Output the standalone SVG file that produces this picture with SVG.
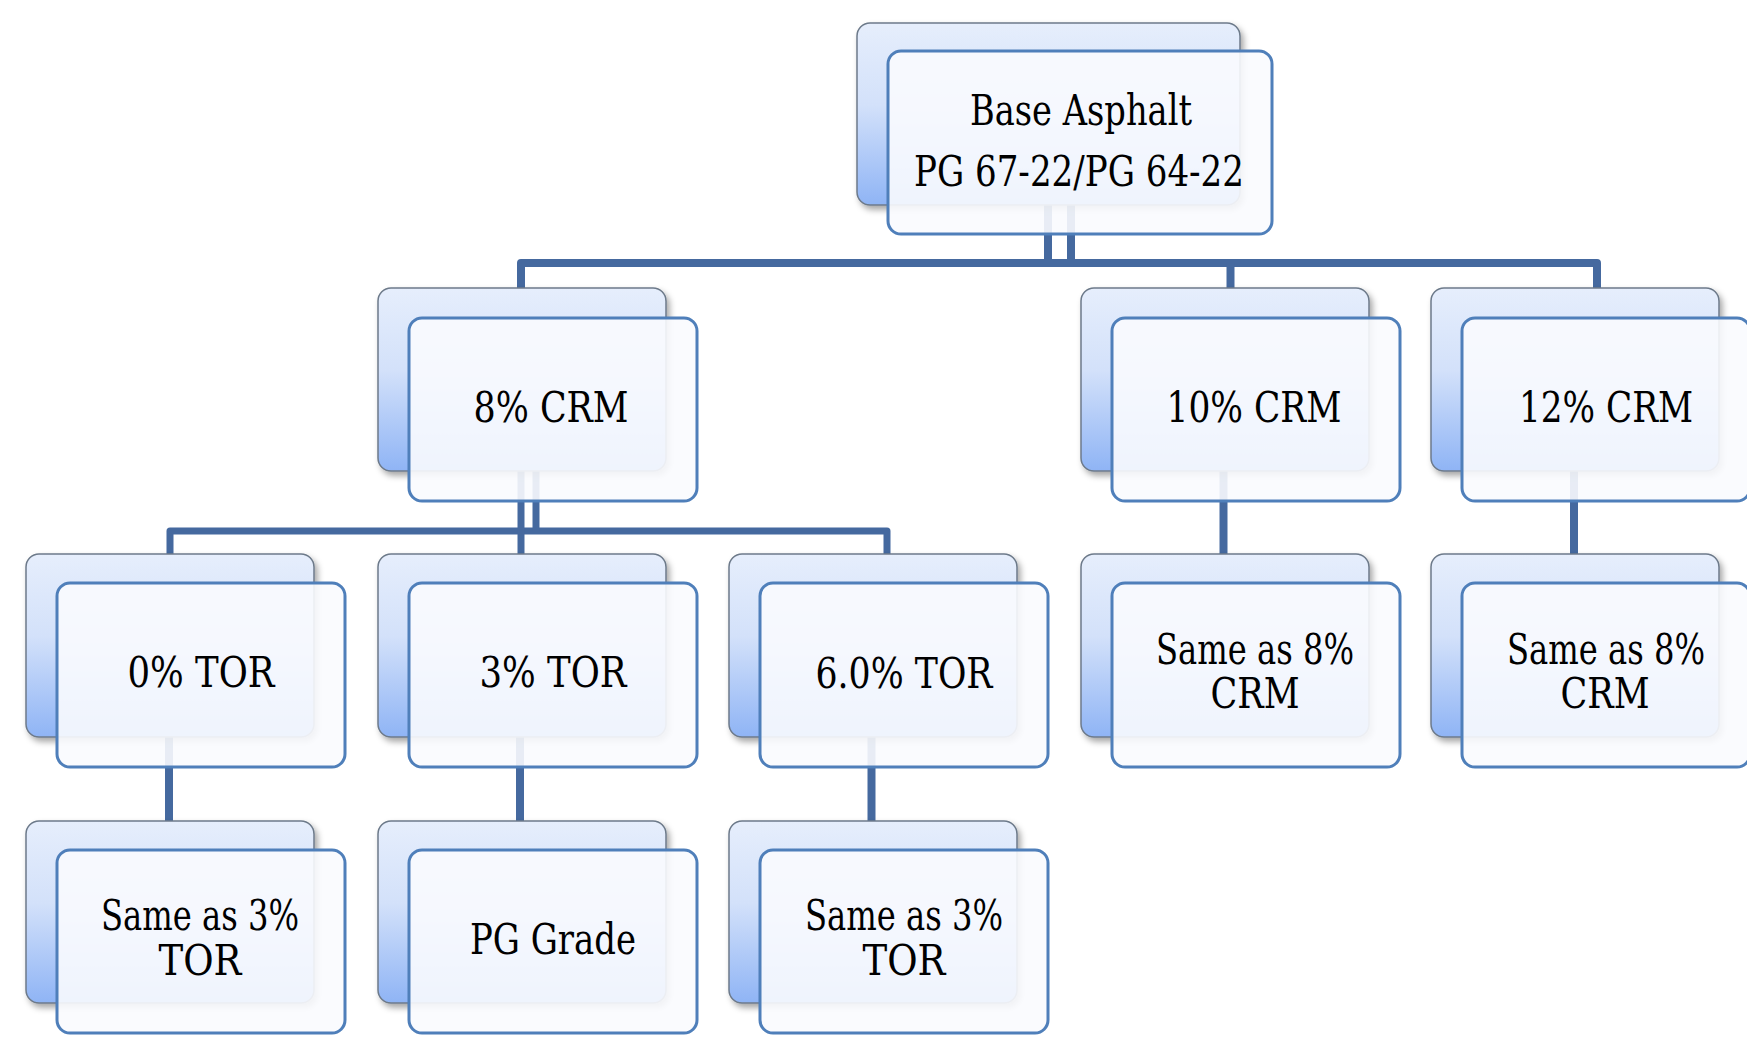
<svg xmlns="http://www.w3.org/2000/svg" width="1747" height="1048" viewBox="0 0 1747 1048">
<defs>
<linearGradient id="bg" x1="0" y1="0" x2="0" y2="1">
<stop offset="0" stop-color="#e6eefc"/>
<stop offset="0.45" stop-color="#d3e1fa"/>
<stop offset="1" stop-color="#8fb4f5"/>
</linearGradient>
<filter id="sh" x="-10%" y="-10%" width="125%" height="130%">
<feDropShadow dx="3" dy="4" stdDeviation="3" flood-color="#000" flood-opacity="0.35"/>
</filter>
<style>
.back{fill:url(#bg);stroke:#6d7a8a;stroke-width:1.5;filter:url(#sh)}
.front{fill:#fafbfe;fill-opacity:0.9;stroke:#4f7fba;stroke-width:3}
.t{font-family:"DejaVu Serif","Liberation Serif",serif;font-size:42px;fill:#000;text-anchor:middle}
.c{fill:none;stroke:#45699f;stroke-width:8;stroke-linejoin:round}
.c2{fill:none;stroke:#45699f;stroke-width:7;stroke-linejoin:round}
</style>
</defs>
<rect width="1747" height="1048" fill="#fff"/>
<g id="connectors">
<path class="c" d="M521 288 V263 H1597 V288"/>
<path class="c" d="M1230.5 263 V288"/>
<path class="c" d="M1048 205 V263"/>
<path class="c" d="M1071 205 V263"/>
<path class="c2" d="M170 554 V531 H887 V555"/>
<path class="c2" d="M521 471 V554"/>
<path class="c2" d="M536 471 V531"/>
<path class="c" d="M1223.5 471 V554"/>
<path class="c" d="M1574 471 V554"/>
<path class="c" d="M169 737 V821"/>
<path class="c" d="M520 737 V821"/>
<path class="c" d="M871.5 737 V821"/>
</g>
<g id="node-base">
<rect class="back" x="857" y="23" width="383" height="182" rx="13"/>
<rect class="front" x="888" y="51" width="384" height="183" rx="13"/>
<text class="t" x="1081" y="125" textLength="222" lengthAdjust="spacingAndGlyphs">Base Asphalt</text>
<text class="t" x="1079" y="186" textLength="330" lengthAdjust="spacingAndGlyphs">PG 67-22/PG 64-22</text>
</g>
<g id="node-8crm">
<rect class="back" x="378" y="288" width="288" height="183" rx="13"/>
<rect class="front" x="409" y="318" width="288" height="183" rx="13"/>
<text class="t" x="551" y="422" textLength="155" lengthAdjust="spacingAndGlyphs">8% CRM</text>
</g>
<g id="node-10crm">
<rect class="back" x="1081" y="288" width="288" height="183" rx="13"/>
<rect class="front" x="1112" y="318" width="288" height="183" rx="13"/>
<text class="t" x="1254" y="422" textLength="175" lengthAdjust="spacingAndGlyphs">10% CRM</text>
</g>
<g id="node-12crm">
<rect class="back" x="1431" y="288" width="288" height="183" rx="13"/>
<rect class="front" x="1462" y="318" width="288" height="183" rx="13"/>
<text class="t" x="1606" y="422" textLength="174" lengthAdjust="spacingAndGlyphs">12% CRM</text>
</g>
<g id="node-0tor">
<rect class="back" x="26" y="554" width="288" height="183" rx="13"/>
<rect class="front" x="57" y="583" width="288" height="184" rx="13"/>
<text class="t" x="201" y="687" textLength="147" lengthAdjust="spacingAndGlyphs">0% TOR</text>
</g>
<g id="node-3tor">
<rect class="back" x="378" y="554" width="288" height="183" rx="13"/>
<rect class="front" x="409" y="583" width="288" height="184" rx="13"/>
<text class="t" x="553" y="687" textLength="147" lengthAdjust="spacingAndGlyphs">3% TOR</text>
</g>
<g id="node-6tor">
<rect class="back" x="729" y="554" width="288" height="183" rx="13"/>
<rect class="front" x="760" y="583" width="288" height="184" rx="13"/>
<text class="t" x="904" y="688" textLength="177" lengthAdjust="spacingAndGlyphs">6.0% TOR</text>
</g>
<g id="node-10same">
<rect class="back" x="1081" y="554" width="288" height="183" rx="13"/>
<rect class="front" x="1112" y="583" width="288" height="184" rx="13"/>
<text class="t" x="1255" y="664" textLength="198" lengthAdjust="spacingAndGlyphs">Same as 8%</text>
<text class="t" x="1255" y="708" textLength="89" lengthAdjust="spacingAndGlyphs">CRM</text>
</g>
<g id="node-12same">
<rect class="back" x="1431" y="554" width="288" height="183" rx="13"/>
<rect class="front" x="1462" y="583" width="288" height="184" rx="13"/>
<text class="t" x="1606" y="664" textLength="198" lengthAdjust="spacingAndGlyphs">Same as 8%</text>
<text class="t" x="1605" y="708" textLength="89" lengthAdjust="spacingAndGlyphs">CRM</text>
</g>
<g id="node-0same">
<rect class="back" x="26" y="821" width="288" height="182" rx="13"/>
<rect class="front" x="57" y="850" width="288" height="183" rx="13"/>
<text class="t" x="200" y="930" textLength="198" lengthAdjust="spacingAndGlyphs">Same as 3%</text>
<text class="t" x="200" y="975" textLength="83" lengthAdjust="spacingAndGlyphs">TOR</text>
</g>
<g id="node-pggrade">
<rect class="back" x="378" y="821" width="288" height="182" rx="13"/>
<rect class="front" x="409" y="850" width="288" height="183" rx="13"/>
<text class="t" x="553" y="954" textLength="166" lengthAdjust="spacingAndGlyphs">PG Grade</text>
</g>
<g id="node-6same">
<rect class="back" x="729" y="821" width="288" height="182" rx="13"/>
<rect class="front" x="760" y="850" width="288" height="183" rx="13"/>
<text class="t" x="904" y="930" textLength="198" lengthAdjust="spacingAndGlyphs">Same as 3%</text>
<text class="t" x="904" y="975" textLength="83" lengthAdjust="spacingAndGlyphs">TOR</text>
</g>
</svg>
